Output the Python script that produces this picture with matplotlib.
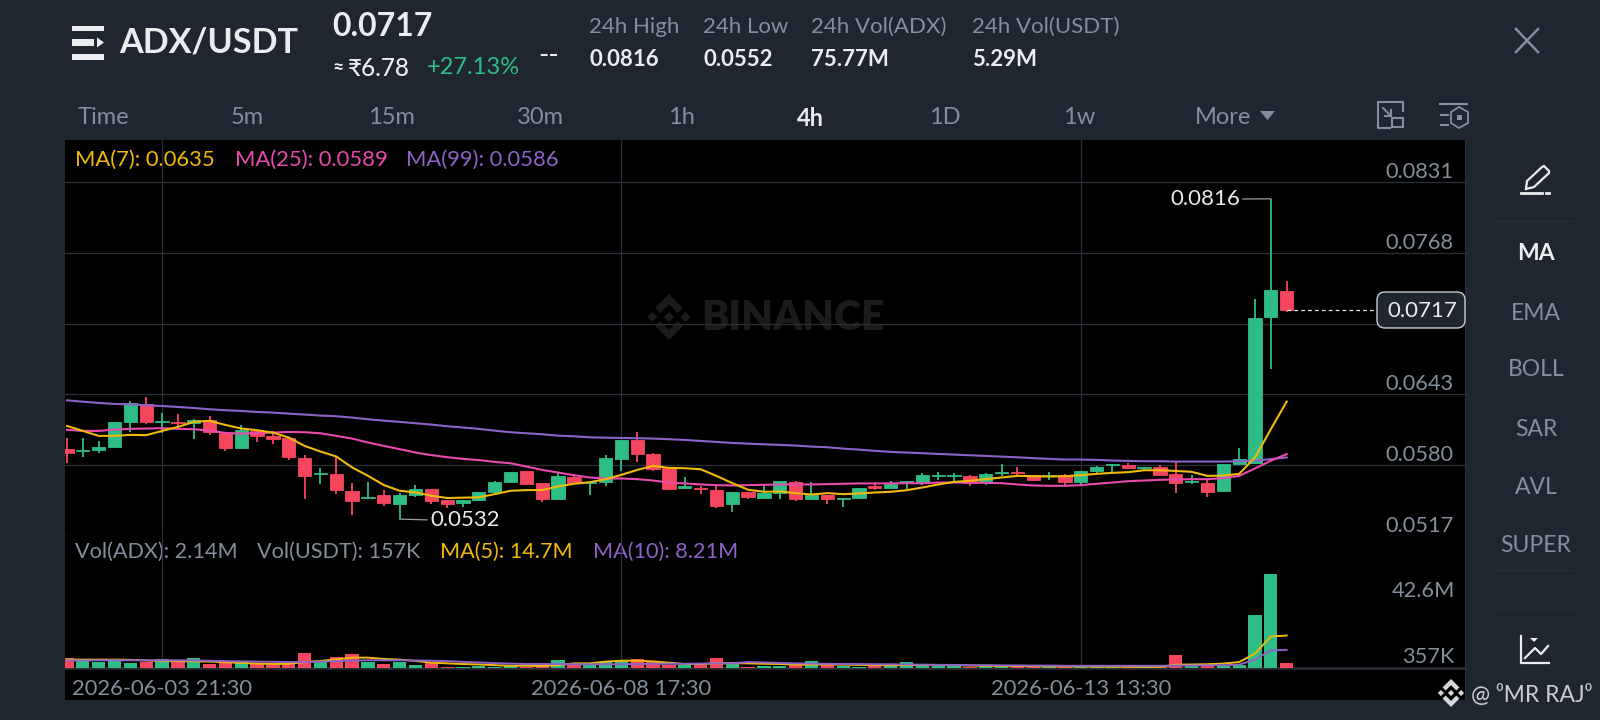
import matplotlib
matplotlib.use('Agg')
from matplotlib import pyplot as plt
from matplotlib.patches import Polygon, FancyBboxPatch, Rectangle

plt.rcParams['font.family'] = ['Lato', 'Noto Sans', 'DejaVu Sans']

# candles, one per 4h
opens = [.0594, .0592, .0593, .0596, .0618, .0634, .0618, .0618, .0617, .0620,
         .0608, .0595, .0610, .0606, .0604, .0586, .0572, .0572, .0557, .0551,
         .0553, .0545, .0553, .0559, .0549, .0546, .0549, .0556, .0565, .0575,
         .0564, .0550, .0569, .0564, .0565, .0585, .0602, .0590, .0577, .0560,
         .0560, .0558, .0545, .0556, .0551, .0555, .0565, .0550, .0553, .0550,
         .0551, .0561, .0560, .0565, .0565, .0570, .0570, .0570, .0565, .0573,
         .0574, .0571, .0570, .0571, .0565, .0575, .0580, .0580, .0577, .0578,
         .0572, .0565, .0564, .0557, .0581, .0582, .0711, .0734]
highs = [.0604, .0604, .0601, .0618, .0637, .0640, .0626, .0625, .0621, .0623,
         .0608, .0615, .0610, .0610, .0604, .0589, .0577, .0587, .0564, .0565,
         .0558, .0555, .0562, .0559, .0549, .0549, .0556, .0566, .0574, .0575,
         .0564, .0573, .0572, .0566, .0589, .0602, .0609, .0591, .0577, .0569,
         .0561, .0561, .0556, .0556, .0561, .0566, .0566, .0565, .0553, .0551,
         .0560, .0565, .0566, .0566, .0573, .0574, .0573, .0571, .0573, .0581,
         .0578, .0571, .0574, .0572, .0575, .0579, .0581, .0582, .0578, .0580,
         .0583, .0571, .0567, .0581, .0595, .0727, .0816, .0743]
lows = [.0582, .0587, .0591, .0596, .0609, .0616, .0608, .0613, .0603, .0607,
        .0592, .0594, .0600, .0599, .0584, .0550, .0563, .0554, .0536, .0550,
        .0544, .0532, .0552, .0545, .0542, .0543, .0548, .0555, .0564, .0563,
        .0547, .0550, .0564, .0553, .0561, .0575, .0583, .0575, .0559, .0559,
        .0554, .0542, .0538, .0550, .0551, .0550, .0548, .0549, .0545, .0543,
        .0550, .0558, .0560, .0559, .0562, .0567, .0566, .0561, .0562, .0570,
        .0571, .0566, .0567, .0561, .0563, .0572, .0573, .0576, .0575, .0571,
        .0555, .0563, .0552, .0556, .0580, .0581, .0665, .0716]
closes = [.0591, .0593, .0596, .0618, .0635, .0618, .0619, .0617, .0620, .0609,
          .0595, .0611, .0606, .0603, .0587, .0570, .0573, .0558, .0548, .0552,
          .0546, .0553, .0559, .0548, .0545, .0549, .0556, .0565, .0574, .0563,
          .0550, .0570, .0564, .0565, .0586, .0602, .0590, .0576, .0559, .0561,
          .0559, .0544, .0556, .0552, .0555, .0566, .0550, .0553, .0550, .0551,
          .0560, .0560, .0563, .0566, .0571, .0571, .0571, .0564, .0572, .0574,
          .0573, .0567, .0571, .0565, .0575, .0578, .0581, .0577, .0578, .0571,
          .0564, .0566, .0556, .0581, .0585, .0710, .0735, .0717]

ma7 = [.06146, .06102, .06058, .06058, .06067, .06064, .06102, .06137, .06182, .06191,
       .06155, .06123, .06108, .06087, .06043, .05969, .05919, .05875, .05778, .05704,
       .05622, .05571, .05557, .05527, .05507, .05510, .05513, .05541, .05571, .05577,
       .05577, .05609, .05633, .05647, .05674, .05712, .05756, .05792, .05774, .05771,
       .05762, .05703, .05639, .05580, .05562, .05565, .05550, .05538, .05550, .05541,
       .05547, .05556, .05562, .05576, .05600, .05627, .05650, .05659, .05674, .05689,
       .05703, .05700, .05697, .05700, .05709, .05721, .05730, .05736, .05753, .05753,
       .05747, .05739, .05703, .05706, .05721, .05866, .06117, .06362]
ma25 = [.06111, .06102, .06102, .06114, .06120, .06123, .06126, .06120, .06117, .06105,
        .06084, .06078, .06081, .06087, .06093, .06090, .06081, .06058, .06034, .05999,
        .05969, .05940, .05910, .05887, .05869, .05854, .05843, .05827, .05815, .05786,
        .05756, .05733, .05709, .05689, .05680, .05680, .05674, .05662, .05644, .05636,
        .05627, .05621, .05618, .05621, .05624, .05627, .05627, .05627, .05630, .05633,
        .05636, .05636, .05637, .05638, .05638, .05644, .05644, .05644, .05641, .05638,
        .05627, .05618, .05615, .05615, .05621, .05633, .05644, .05656, .05662, .05668,
        .05671, .05674, .05674, .05683, .05703, .05769, .05837, .05896]
ma99 = [.06373, .06361, .06350, .06341, .06338, .06329, .06323, .06314, .06305, .06294,
        .06285, .06279, .06270, .06264, .06255, .06247, .06238, .06232, .06220, .06205,
        .06193, .06182, .06170, .06158, .06143, .06132, .06120, .06104, .06090, .06081,
        .06072, .06060, .06054, .06045, .06042, .06039, .06037, .06034, .06028, .06022,
        .06013, .06004, .05995, .05989, .05983, .05978, .05972, .05963, .05957, .05945,
        .05936, .05925, .05916, .05910, .05904, .05898, .05892, .05886, .05880, .05874,
        .05868, .05860, .05854, .05848, .05848, .05845, .05839, .05836, .05833, .05833,
        .05830, .05830, .05830, .05830, .05833, .05837, .05852, .05866]

# volume in millions
volumes = [4.5, 3.0, 2.7, 3.0, 2.3, 2.7, 4.1, 3.0, 4.5, 1.8,
           2.1, 2.6, 2.0, 1.2, 2.3, 6.6, 2.6, 5.0, 6.2, 2.6,
           2.0, 2.9, 1.5, 2.6, 0.6, 0.6, 1.0, 0.5, 0.7, 0.6,
           1.1, 3.5, 2.4, 2.0, 2.9, 3.3, 3.9, 2.7, 1.2, 1.5,
           1.4, 4.5, 2.5, 0.4, 1.0, 1.0, 1.5, 3.0, 1.5, 1.0,
           0.3, 1.3, 1.0, 2.7, 1.3, 1.2, 1.0, 0.4, 0.7, 1.0,
           1.5, 0.5, 0.5, 0.5, 0.7, 0.6, 0.6, 0.4, 0.4, 0.3,
           6.0, 1.0, 1.3, 1.2, 1.3, 23.9, 42.6, 2.14]
vol_ma5 = [3.8, 3.8, 3.8, 3.8, 3.7, 3.4, 3.2, 3.1, 3.0, 2.9,
           2.6, 2.3, 2.0, 1.8, 1.9, 2.7, 3.2, 3.9, 4.7, 4.7,
           4.1, 3.8, 3.2, 2.4, 2.1, 1.8, 1.6, 1.3, 1.0, 1.0,
           0.9, 1.3, 2.1, 2.1, 2.9, 3.3, 3.3, 3.0, 2.4, 1.8,
           1.8, 2.1, 2.2, 2.1, 1.9, 1.8, 1.5, 1.5, 1.6, 1.5,
           1.4, 1.3, 1.2, 1.3, 1.4, 1.4, 1.3, 1.1, 1.0, 0.9,
           0.9, 0.8, 0.7, 0.7, 0.7, 0.6, 0.6, 0.6, 0.5, 0.5,
           1.5, 1.6, 1.7, 2.0, 2.7, 6.5, 14.3, 14.7]
vol_ma10 = [3.4, 3.4, 3.5, 3.5, 3.5, 3.5, 3.5, 3.5, 3.4, 3.3,
            3.1, 3.0, 2.9, 2.8, 2.7, 2.7, 2.9, 3.1, 3.3, 3.5,
            3.5, 3.5, 3.4, 3.3, 3.1, 2.8, 2.5, 2.2, 2.0, 1.8,
            1.8, 1.8, 1.7, 1.7, 1.7, 1.7, 1.8, 1.9, 1.9, 1.9,
            2.0, 2.1, 2.1, 2.7, 2.5, 2.3, 2.1, 2.0, 1.9, 1.8,
            1.8, 1.7, 1.7, 1.6, 1.5, 1.4, 1.4, 1.3, 1.3, 1.2,
            1.2, 1.1, 1.1, 1.0, 1.0, 1.0, 1.0, 1.0, 1.0, 1.0,
            1.1, 1.1, 1.2, 1.3, 1.5, 3.8, 8.0, 8.21]

price_ticks = [.0831, .0768, .0705, .0643, .0580, .0517]
price_tick_labels = ['0.0831', '0.0768', '', '0.0643', '0.0580', '0.0517']
volume_tick_labels = ['42.6M', '357K']
date_idx = [6, 35, 64]
date_labels = ['2026-06-03 21:30', '2026-06-08 17:30', '2026-06-13 13:30']
tabs = ['Time', '5m', '15m', '30m', '1h', '4h', '1D', '1w', 'More']
side_items = ['MA', 'EMA', 'BOLL', 'SAR', 'AVL', 'SUPER']

PANEL = '#1f2630'
GRID = '#2b3038'
GREY = '#848e9c'
WHITE = '#eaecef'
GREEN = '#2ebd85'
RED = '#f6465d'
ORANGE = '#f0b90b'
PINK = '#e84aae'
PURPLE = '#8e63c9'
W, H = 1600, 720
CHART_L, CHART_R, CHART_T = 65, 1465, 140
PRICE_B, VOL_B, CHART_B = 536, 668, 700


def frame(left, top, right, bottom):
    return [left / W, 1 - bottom / H, (right - left) / W, (bottom - top) / H]


def draw_logo(ax, cx, cy, r, color, zorder=1):
    # binance diamond, built from centre square, two side squares and chevrons
    def diamond(x, y, s):
        ax.add_patch(Polygon([(x, y - s), (x + s, y), (x, y + s), (x - s, y)], color=color, lw=0, zorder=zorder))
    diamond(cx, cy, r * .22)
    diamond(cx - r * .72, cy, r * .22)
    diamond(cx + r * .72, cy, r * .22)
    for sign in (-1, 1):
        ax.add_patch(Polygon([(cx, cy + sign * r), (cx + r * .6, cy + sign * r * .4), (cx + r * .38, cy + sign * r * .18),
                              (cx, cy + sign * r * .56), (cx - r * .38, cy + sign * r * .18), (cx - r * .6, cy + sign * r * .4)],
                             color=color, lw=0, zorder=zorder))


fig = plt.figure(figsize=(16, 7.2), dpi=100, facecolor=PANEL)

# base layer in pixel coordinates, holds the chrome and all the labels
ui = fig.add_axes([0, 0, 1, 1], zorder=0)
ui.set_xlim(0, W)
ui.set_ylim(H, 0)
ui.axis('off')
ui.add_patch(Rectangle((CHART_L, CHART_T), CHART_R - CHART_L, CHART_B - CHART_T, color='black', lw=0, zorder=0))
ui.plot([CHART_R, CHART_R], [CHART_T, CHART_B], color=GRID, lw=.8, zorder=.5)

draw_logo(ui, 669, 317, 23, '#1b1b1b')
ui.text(793, 318, 'BINANCE', color='#1b1b1b', fontsize=29.5, fontweight='heavy', ha='center', va='center', zorder=1)

# header
for top, bottom, right in [(26, 31, 104), (39, 46, 94), (54, 60, 104)]:
    ui.add_patch(Rectangle((72, top), right - 72, bottom - top, color=WHITE, lw=0))
ui.add_patch(Polygon([(97, 37.5), (104, 42.5), (97, 47.5)], color=WHITE, lw=0))
ui.text(119, 42, 'ADX/USDT', color=WHITE, fontsize=24.6, fontweight='bold', va='center')
ui.text(332, 27, '0.0717', color=WHITE, fontsize=23, fontweight='bold', va='center')
ui.text(332, 68, '≈', color=WHITE, fontsize=14, fontweight='bold', va='center')
ui.text(348, 68, '₹6.78', color=WHITE, fontsize=17.5, fontweight='medium', va='center')
ui.text(427, 67, '+27.13%', color=GREEN, fontsize=17, va='center')
ui.text(538, 56, '--', color=WHITE, fontsize=20, va='center')
for x, name, value in [(589, '24h High', '0.0816'), (703, '24h Low', '0.0552'),
                       (811, '24h Vol(ADX)', '75.77M'), (972, '24h Vol(USDT)', '5.29M')]:
    ui.text(x, 27, name, color=GREY, fontsize=16, va='center')
    ui.text(x, 59, value, color=WHITE, fontsize=16, fontweight='bold', va='center')
ui.plot([1516, 1538], [29, 52], color=GREY, lw=1.8)
ui.plot([1516, 1538], [52, 29], color=GREY, lw=1.8)

# interval tabs
for label, x in zip(tabs, [103, 247, 391, 540, 681, 810, 945, 1079, 1223]):
    active = label == '4h'
    ui.text(x, 118, label, color=WHITE if active else GREY, fontsize=17,
            fontweight='bold' if active else 'normal', ha='center', va='center')
ui.add_patch(Polygon([(1260, 111), (1275, 111), (1267.5, 120)], color=GREY, lw=0))

# icons next to tabs
ui.plot([1390, 1378, 1378, 1403, 1403], [128, 128, 102, 102, 111], color=GREY, lw=1.5)
ui.add_patch(Rectangle((1392, 118), 11, 9, fill=False, ec=GREY, lw=1.5))
ui.plot([1383, 1391], [108, 116], color=GREY, lw=1.5)
ui.plot([1391, 1391, 1385], [110, 116, 116], color=GREY, lw=1.5)
ui.plot([1440, 1467], [104, 104], color=GREY, lw=1.5)
ui.plot([1441, 1448], [115, 115], color=GREY, lw=1.5)
ui.plot([1441, 1448], [125, 125], color=GREY, lw=1.5)
ui.add_patch(Polygon([(1459, 107), (1468, 112), (1468, 123), (1459, 128), (1451, 123), (1451, 112)],
                     fill=False, ec=GREY, lw=1.3))
ui.add_patch(Rectangle((1456.5, 115), 5, 5, color=GREY, lw=0))

# right sidebar
for i, (label, y) in enumerate(zip(side_items, [253, 313, 370, 429, 487, 545])):
    ui.text(1536, y, label, color=WHITE if i == 0 else GREY, fontsize=16.5,
            fontweight='bold' if i == 0 else 'normal', ha='center', va='center')
for y in [221, 570, 609]:
    ui.plot([1498, 1572], [y, y], color=GRID, lw=.9)
ui.add_patch(Polygon([(1527, 181), (1542, 167), (1544, 166), (1549, 171), (1549, 173), (1534, 187), (1526, 189)],
                     fill=False, ec=WHITE, lw=1.6))
ui.plot([1521, 1542], [193, 193], color=WHITE, lw=2)
ui.plot([1546, 1549], [193, 193], color=WHITE, lw=2)
ui.plot([1521, 1521, 1549], [636, 663, 663], color=WHITE, lw=1.6)
ui.plot([1525, 1535, 1541, 1548], [658, 648, 654, 646], color=WHITE, lw=1.6)
ui.add_patch(Polygon([(1530, 638), (1538, 638), (1534, 642)], color=WHITE, lw=0))

# legends
for x, label, color in [(75, 'MA(7): 0.0635', ORANGE), (235, 'MA(25): 0.0589', PINK), (406, 'MA(99): 0.0586', PURPLE)]:
    ui.text(x, 160, label, color=color, fontsize=15.8, va='center')
for x, label, color in [(75, 'Vol(ADX): 2.14M', GREY), (257, 'Vol(USDT): 157K', GREY),
                        (440, 'MA(5): 14.7M', ORANGE), (593, 'MA(10): 8.21M', PURPLE)]:
    ui.text(x, 552, label, color=color, fontsize=15.6, va='center')

# price chart
n = len(closes)
xs = list(range(n))
step = 15.84
xlim = ((CHART_L - 67) / step, (CHART_R - 67) / step)
ax = fig.add_axes(frame(CHART_L, CHART_T, CHART_R, PRICE_B), zorder=1, facecolor='none')
ax.set_xlim(xlim)
ax.set_ylim(.0517, .0831 + 42 * 8.845e-5)
ax.axis('off')
for tick in price_ticks:
    ax.axhline(tick, color=GRID, lw=.9, zorder=1)
for i in date_idx:
    ax.axvline(i, color=GRID, lw=.9, zorder=1)

colors = [GREEN if c >= o else RED for o, c in zip(opens, closes)]
ax.vlines(xs, lows, highs, colors=colors, lw=1.3, zorder=2)
ax.bar(xs, [abs(c - o) for o, c in zip(opens, closes)], bottom=[min(o, c) for o, c in zip(opens, closes)],
       width=.84, color=colors, edgecolor=colors, lw=.6, zorder=3)
ax.plot(xs, ma99, color=PURPLE, lw=1.5, zorder=4)
ax.plot(xs, ma25, color=PINK, lw=1.5, zorder=5)
ax.plot(xs, ma7, color=ORANGE, lw=1.5, zorder=6)

for tick, label in zip(price_ticks, price_tick_labels):
    if label:
        ax.annotate(label, xy=(1, tick), xycoords=('axes fraction', 'data'), xytext=(-8.2, 7.4),
                    textcoords='offset points', color=GREY, fontsize=15.7, ha='right', va='center', zorder=2)

# high and low markers
imax = highs.index(max(highs))
imin = lows.index(min(lows))
ax.annotate('0.0816', xy=(imax, highs[imax]), xytext=(1240, 199), textcoords=ui.transData, color=WHITE, fontsize=16,
            ha='right', va='center', arrowprops=dict(arrowstyle='-', color='#9aa0a8', lw=.9, shrinkA=0, shrinkB=0,
                                                     relpos=(1, .5)), zorder=7)
ax.annotate('0.0532', xy=(imin, lows[imin]), xytext=(430, 520), textcoords=ui.transData, color=WHITE, fontsize=16,
            ha='left', va='center', arrowprops=dict(arrowstyle='-', color='#9aa0a8', lw=.9, shrinkA=0, shrinkB=0,
                                                    relpos=(0, .5)), zorder=7)

# last price tag
ax.plot([n - 1, xlim[1]], [closes[-1], closes[-1]], color=WHITE, lw=.9, ls=(0, (3, 2.5)), zorder=6, clip_on=True)
ax.add_patch(FancyBboxPatch((1383, 298), 76, 24, boxstyle='round,pad=6,rounding_size=8', transform=ui.transData,
                            fc=PANEL, ec='#c9ccd1', lw=1, clip_on=False, zorder=8))
ax.text(1422, 311, '0.0717', transform=ui.transData, color=WHITE, fontsize=16, ha='center', va='center', zorder=9)

# volume chart
vol_ax = fig.add_axes(frame(CHART_L, PRICE_B, CHART_R, VOL_B), zorder=1, facecolor='none')
vol_ax.set_xlim(xlim)
vol_ax.set_ylim(0, (VOL_B - PRICE_B) * .453)
vol_ax.axis('off')
vol_ax.axhline(0, color=GRID, lw=1.8, zorder=1, clip_on=False)
for i in date_idx:
    vol_ax.axvline(i, color=GRID, lw=.9, zorder=1)
vol_ax.bar(xs, volumes, width=.84, color=colors, lw=0, zorder=2)
vol_ax.plot(xs, vol_ma5, color=ORANGE, lw=1.4, zorder=3)
vol_ax.plot(xs, vol_ma10, color=PURPLE, lw=1.4, zorder=4)

ui.text(1455, 591, volume_tick_labels[0], color=GREY, fontsize=15.7, ha='right', va='center')
ui.text(1455, 657, volume_tick_labels[1], color=GREY, fontsize=15.7, ha='right', va='center')
for i, label in zip(date_idx, date_labels):
    ui.text(67 + i * step, 689, label, color=GREY, fontsize=15.8, ha='center', va='center')

# watermark
draw_logo(ui, 1451, 693, 14, '#d5d7da', zorder=3)
ui.text(1471, 695, '@ ⁰MR RAJ⁰', color='#c9ccd1', fontsize=16.5, va='center', zorder=3)

fig.savefig('out.png', dpi=100, facecolor=PANEL)
